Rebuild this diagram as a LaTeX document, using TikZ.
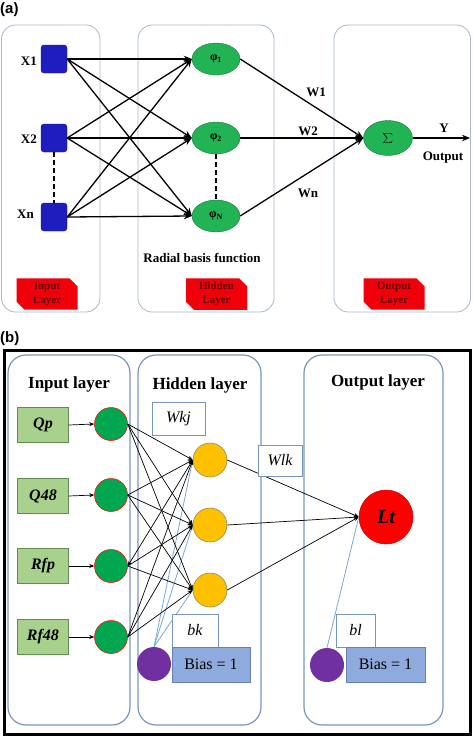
\documentclass[tikz,border=0pt]{standalone}
\usepackage{fontspec}
\setmainfont{Liberation Serif}
\newfontfamily\arialfont{Liberation Sans}
\usetikzlibrary{shapes.misc,shapes.geometric,arrows.meta}
\definecolor{panA}{RGB}{166,184,204}
\definecolor{panB}{RGB}{120,150,188}
\definecolor{sqblue}{RGB}{30,30,190}
\definecolor{sqedge}{RGB}{20,20,120}
\definecolor{phigreen}{RGB}{34,180,84}
\definecolor{phiedge}{RGB}{20,120,60}
\definecolor{labred}{RGB}{240,0,10}
\definecolor{labtext}{RGB}{100,0,0}
\definecolor{boxgreen}{RGB}{169,209,142}
\definecolor{boxgreenedge}{RGB}{100,140,80}
\definecolor{cgreen}{RGB}{0,166,80}
\definecolor{cyellow}{RGB}{255,192,0}
\definecolor{cyedge}{RGB}{150,135,90}
\definecolor{cpurple}{RGB}{112,48,160}
\definecolor{biasblue}{RGB}{143,170,220}
\definecolor{biasedge}{RGB}{100,130,180}
\definecolor{wline}{RGB}{120,170,215}
\definecolor{ltedge}{RGB}{200,0,0}
\tikzset{
  panelA/.style={draw=panA, line width=0.8pt, rounded corners=14pt, inner sep=0pt, outer sep=0pt, anchor=north west},
  panelB/.style={draw=panB, line width=1.2pt, rounded corners=18pt, inner sep=0pt, outer sep=0pt, anchor=north west},
  sqnode/.style={draw=sqedge, fill=sqblue, rounded corners=3pt, minimum width=26pt, minimum height=28pt, inner sep=0pt},
  phinode/.style={ellipse, draw=phiedge, fill=phigreen, minimum width=48pt, minimum height=32pt, inner sep=0pt, font=\bfseries\fontsize{12}{14}\selectfont},
  lblA/.style={font=\bfseries\fontsize{13}{15}\selectfont, inner sep=0pt},
  redlab/.style={chamfered rectangle, chamfered rectangle corners={north east,south west}, chamfered rectangle xsep=4pt, chamfered rectangle ysep=4pt, fill=labred, text=labtext, minimum width=61pt, minimum height=28pt, inner sep=0pt, align=center, font=\bfseries\fontsize{11}{13.5}\selectfont},
  arrA/.style={line width=1.3pt, -{Stealth[length=8pt,width=6.5pt]}},
  dashA/.style={line width=1.8pt, dash pattern=on 5pt off 3pt},
  gbox/.style={draw=boxgreenedge, fill=boxgreen, minimum width=51pt, minimum height=35pt, inner sep=0pt, font=\bfseries\itshape\fontsize{16}{18}\selectfont},
  gcirc/.style={circle, draw=red, line width=0.5pt, fill=cgreen, minimum size=33pt, inner sep=0pt},
  ycirc/.style={circle, draw=cyedge, line width=0.6pt, fill=cyellow, minimum size=34pt, inner sep=0pt},
  pcirc/.style={circle, fill=cpurple, minimum size=34pt, inner sep=0pt},
  wbox/.style={draw=panB, line width=0.8pt, fill=white, inner sep=0pt, font=\itshape\fontsize{16}{18}\selectfont},
  biasbox/.style={draw=biasedge, line width=0.8pt, fill=biasblue, minimum width=78pt, minimum height=35pt, inner sep=0pt, font=\fontsize{16}{18}\selectfont},
  titleB/.style={font=\bfseries\fontsize{17}{20}\selectfont, inner sep=0pt},
  arrB/.style={line width=0.7pt, -{Stealth[length=5pt,width=4pt]}},
  arrBB/.style={line width=0.7pt, {Stealth[length=5pt,width=4pt]}-{Stealth[length=5pt,width=4pt]}},
  arrBlue/.style={draw=wline, line width=0.8pt},
  panlab/.style={font=\arialfont\bfseries\fontsize{15}{17}\selectfont, inner sep=0pt, anchor=west}
}
\begin{document}
\begin{tikzpicture}[x=1pt,y=-1pt]
\useasboundingbox (0,0) rectangle (472,736);

% ---------------- panel (a) ----------------
\node[panlab] (labA) at (0,10) {(a)};
\node[panelA, minimum width=98.5pt, minimum height=287pt] (pinA) at (1.5,25) {};
\node[panelA, minimum width=136pt, minimum height=287pt] (phidA) at (138,25) {};
\node[panelA, minimum width=136.5pt, minimum height=287pt] (poutA) at (334,25) {};

\node[sqnode] (x1) at (54,59) {};
\node[sqnode] (x2) at (54,138) {};
\node[sqnode] (xn) at (54,217) {};
\node[lblA, anchor=east] (lx1) at (37,61) {X1};
\node[lblA, anchor=east] (lx2) at (37,139) {X2};
\node[lblA, anchor=east] (lxn) at (34,214) {Xn};

\node[phinode] (p1) at (216,59) {φ\textsubscript{1}};
\node[phinode] (p2) at (216,138) {φ\textsubscript{2}};
\node[phinode] (pN) at (216,216) {φ\textsubscript{N}};

\draw[dashA] (x2.south) -- (xn.north);
\draw[dashA] (p2.south) -- (pN.north);

\foreach \i in {1,2,n}{
  \foreach \j in {1,2,N}{
    \draw[arrA] (x\i.east) -- (p\j.west);
  }
}

\node[ellipse, draw=phiedge, fill=phigreen, minimum width=49pt, minimum height=35pt, inner sep=0pt, font=\fontsize{18}{20}\selectfont] (sig) at (388,138) {$\sum$};
\draw[arrA] (p1.east) -- (sig.west);
\draw[arrA] (p2.east) -- (sig.west);
\draw[arrA] (pN.east) -- (sig.west);
\coordinate (yout) at (470,138);
\draw[arrA] (sig.east) -- (yout);

\node[lblA] (w1) at (316,92) {W1};
\node[lblA] (w2) at (308,131) {W2};
\node[lblA] (wn) at (308,193) {Wn};
\node[lblA] (ylab) at (444,128) {Y};
\node[lblA] (olab) at (443,158) {Output};
\node[lblA] (rbf) at (202,258) {Radial basis function};

\node[redlab] (rl1) at (47,294) {Input\\Layer};
\node[redlab] (rl2) at (216.5,294) {Hidden\\Layer};
\node[redlab] (rl3) at (394,294) {Output\\Layer};

% ---------------- panel (b) ----------------
\node[panlab] (labB) at (0,339) {(b)};
\node[draw=black, line width=2.5pt, anchor=north west, minimum width=466pt, minimum height=384pt, inner sep=0pt] (frameB) at (3,349) {};
\node[panelB, minimum width=122pt, minimum height=370pt] (pinB) at (8,355) {};
\node[panelB, minimum width=123pt, minimum height=370pt] (phidB) at (138,355) {};
\node[panelB, minimum width=139pt, minimum height=370pt] (poutB) at (304,355) {};

\node[titleB] (t1) at (69,384) {Input layer};
\node[titleB] (t2) at (200,385) {Hidden layer};
\node[titleB] (t3) at (378,382) {Output layer};

\node[gbox] (b1) at (43,425) {Qp};
\node[gbox] (b2) at (43,496) {Q48};
\node[gbox] (b3) at (43,566) {Rfp};
\node[gbox] (b4) at (43,637) {Rf48};

\node[gcirc] (g1) at (111,424) {};
\node[gcirc] (g2) at (111,495) {};
\node[gcirc] (g3) at (111,566) {};
\node[gcirc] (g4) at (111,637) {};

\foreach \i in {1,...,4}{ \draw[arrB] (b\i.east) -- (g\i.west); }

\node[ycirc] (y1) at (210,460) {};
\node[ycirc] (y2) at (210,525) {};
\node[ycirc] (y3) at (210,590) {};

\node[pcirc] (ph) at (154,664) {};
\foreach \j in {1,2,3}{ \draw[arrBlue] (ph.north) -- (y\j.west); }

\foreach \i/\j in {1/1,1/2,1/3,2/1,2/2,2/3,3/2,3/3,4/1,4/2,4/3}{
  \draw[arrB] (g\i.east) -- (y\j.west);
}
\draw[arrBB] (g3.east) -- (y1.west);

\node[wbox, minimum width=53pt, minimum height=33pt] (wkj) at (178.5,418.5) {Wkj};
\node[wbox, minimum width=46pt, minimum height=33pt] (bk) at (195,630.5) {bk};
\node[biasbox] (bias1) at (211,664.5) {Bias = 1};

\node[circle, draw=ltedge, line width=0.5pt, fill=red, minimum size=54pt, inner sep=0pt, font=\bfseries\itshape\fontsize{20}{22}\selectfont] (lt) at (386,517) {Lt};
\foreach \j in {1,2,3}{ \draw[arrB] (y\j.east) -- (lt.west); }

\node[wbox, minimum width=44pt, minimum height=31pt] (wlk) at (280,460.5) {Wlk};

\node[pcirc] (po) at (327,665) {};
\draw[arrBlue] (po.north) -- (lt.west);
\node[wbox, minimum width=39pt, minimum height=33pt] (bl) at (355.5,630.5) {bl};
\node[biasbox, minimum width=79pt] (bias2) at (385.5,664.5) {Bias = 1};
\end{tikzpicture}
\end{document}
